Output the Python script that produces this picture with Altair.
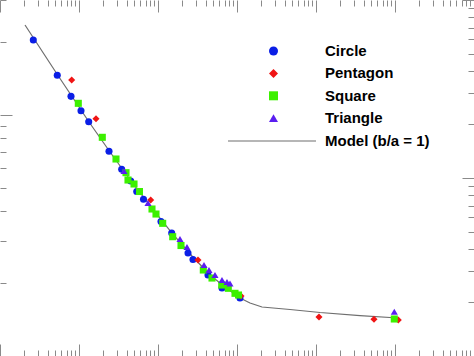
import altair as alt
import pandas as pd

categories = ["Circle", "Pentagon", "Square", "Triangle"]
shapes = ["circle", "diamond", "square", "triangle-up"]
colors = ["#0a1ee6", "#f01414", "#3cf000", "#5a1ef0"]
model_label = "Model (b/a = 1)"

circle_x = [2.64, 5.31, 7.92, 10.6, 13.27, 23.98, 34.7, 45.1, 53.8, 65.5, 109.1, 149.1, 239.8, 277.3, 429.4, 645.8, 1091]
circle_y = [20.47, 14.61, 11.95, 10.42, 9.378, 7.068, 5.952, 5.322, 4.814, 4.468, 3.614, 3.238, 2.675, 2.514, 2.168, 1.915, 1.740]
pentagon_x = [8.08, 16.41, 80.8, 320.8, 1124, 10910, 54220, 110100]
pentagon_y = [13.97, 9.652, 4.438, 2.502, 1.774, 1.451, 1.420, 1.411]
square_x = [9.80, 19.72, 29.4, 39.35, 41.7, 49.7, 58.3, 83.96, 94.3, 114.7, 153.5, 195.5, 374.5, 482.6, 640.2, 776.0, 943.4, 1045, 97970]
square_y = [11.18, 8.08, 6.567, 5.762, 5.373, 5.172, 4.814, 4.073, 3.882, 3.552, 3.126, 2.873, 2.274, 2.106, 1.970, 1.909, 1.820, 1.791, 1.424]
triangle_x = [37.1, 74.7, 189.8, 232.8, 382.2, 442.1, 526.6, 645.8, 747.0, 815.5, 97970]
triangle_y = [5.857, 4.313, 3.058, 2.833, 2.385, 2.274, 2.168, 2.067, 2.028, 1.999, 1.526]
model_x = [2.073, 5.266, 13.39, 24.69, 45.5, 83.96, 150.4, 269.4, 455.0, 704.8, 1091, 1461, 2073, 4688, 11240, 36060, 109100]
model_y = [23.63, 14.79, 9.352, 7.021, 5.322, 4.111, 3.238, 2.600, 2.168, 1.933, 1.740, 1.659, 1.597, 1.559, 1.515, 1.472, 1.438]

x_domain = [1, 1e6]
y_left_domain = [1, 30]
y_right_domain = [0.1, 10]
x_ticks = [m * 10 ** e for e in range(0, 6) for m in range(1, 10)] + [1e6]
y_left_ticks = [1, 2, 3, 4, 5, 6, 7, 8, 9, 10, 20, 30]
y_right_ticks = [0.1, 0.2, 0.3, 0.4, 0.5, 0.6, 0.7, 0.8, 0.9, 1, 2, 3, 4, 5, 6, 7, 8, 9, 10]

rows = []
for cat, xs, ys in zip(categories, [circle_x, pentagon_x, square_x, triangle_x],
                       [circle_y, pentagon_y, square_y, triangle_y]):
    for xv, yv in zip(xs, ys):
        rows.append({"x": xv, "y": yv, "cat": cat})
points_df = pd.DataFrame(rows)
model_df = pd.DataFrame({"x": model_x, "y": model_y, "series": model_label})

tick_expr = "abs(log(datum.value)/LN10 - round(log(datum.value)/LN10)) < 0.001 ? -12 : -6"


def ax(orient, values):
    return alt.Axis(orient=orient, values=values, domain=False, labels=False, grid=False,
                    ticks=True, tickColor="#8a8a8a", tickWidth=1,
                    tickSize=alt.ExprRef(expr=tick_expr), title=None)


xs_main = alt.Scale(type="log", domain=x_domain, nice=False)
ys_main = alt.Scale(type="log", domain=y_left_domain, nice=False)

line = alt.Chart(model_df).mark_line(strokeWidth=1.2).encode(
    x=alt.X("x:Q", scale=xs_main, axis=ax("bottom", x_ticks)),
    y=alt.Y("y:Q", scale=ys_main, axis=ax("left", y_left_ticks)),
    color=alt.Color("series:N", scale=alt.Scale(domain=[model_label], range=["#6e6e6e"]),
                    legend=alt.Legend(title=None, orient="none", legendX=227, legendY=96,
                                      symbolType="stroke", symbolSize=7744, symbolStrokeWidth=1.2,
                                      labelOffset=8, labelFont="Liberation Sans", labelFontSize=15,
                                      labelFontWeight="bold", labelColor="black", padding=0)),
)

points = alt.Chart(points_df).mark_point(filled=True, size=50, opacity=1).encode(
    x=alt.X("x:Q", scale=xs_main, axis=None),
    y=alt.Y("y:Q", scale=ys_main, axis=None),
    shape=alt.Shape("cat:N", scale=alt.Scale(domain=categories, range=shapes), legend=None),
    color=alt.Color("cat:N", scale=alt.Scale(domain=categories, range=colors),
                    legend=alt.Legend(title=None, orient="none", legendX=266, legendY=43.5,
                                      symbolSize=81, symbolStrokeWidth=0, labelOffset=44,
                                      rowPadding=6.4, labelFont="Liberation Sans", labelFontSize=15,
                                      labelFontWeight="bold", labelColor="black", padding=0)),
)

hidden = alt.Chart(model_df).mark_point(opacity=0).encode(
    x=alt.X("x:Q", scale=alt.Scale(type="log", domain=x_domain, nice=False), axis=ax("top", x_ticks)),
    y=alt.Y("y:Q", scale=alt.Scale(type="log", domain=y_right_domain, nice=False),
            axis=ax("right", y_right_ticks)),
)

chart = alt.layer(line, points, hidden).resolve_scale(
    x="independent", y="independent", color="independent", shape="independent"
).properties(
    width=474, height=356, padding=0, autosize=alt.AutoSizeParams(type="none"),
    background="white"
).configure_view(stroke=None)

chart.save("out.html", embed_options={"renderer": "svg", "actions": False})
